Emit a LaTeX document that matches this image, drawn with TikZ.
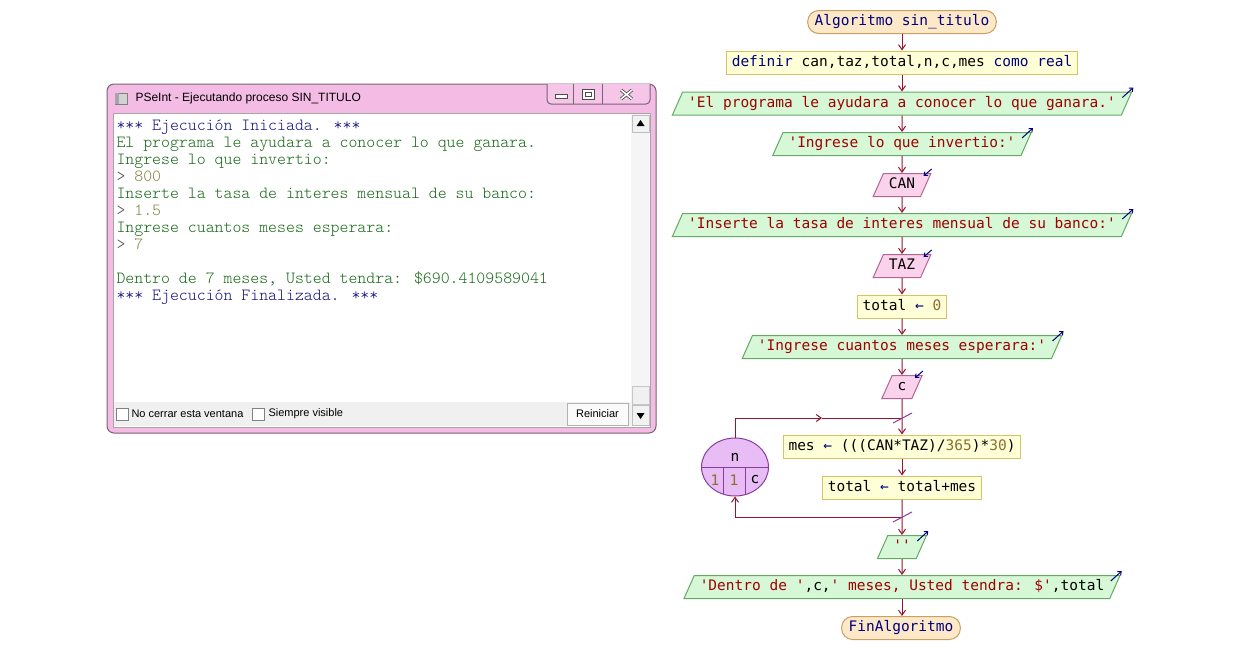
\documentclass[tikz,border=0pt]{standalone}
\usepackage{fontspec}
\setmainfont{Liberation Sans}
\newfontfamily\flowfont[Ligatures=ResetAll]{DejaVu Sans Mono}
\newfontfamily\confont[Ligatures=ResetAll]{Latin Modern Mono Light}
\usetikzlibrary{shapes.geometric,arrows.meta}

\definecolor{flowred}{RGB}{150,20,45}
\definecolor{kwblue}{RGB}{0,0,128}
\definecolor{strred}{RGB}{160,0,0}
\definecolor{numolive}{RGB}{140,110,50}
\definecolor{startfill}{RGB}{253,233,200}
\definecolor{startdraw}{RGB}{200,160,100}
\definecolor{procfill}{RGB}{255,255,215}
\definecolor{procdraw}{RGB}{215,195,100}
\definecolor{outfill}{RGB}{215,248,215}
\definecolor{outdraw}{RGB}{100,170,100}
\definecolor{infill}{RGB}{250,210,235}
\definecolor{indraw}{RGB}{180,100,150}
\definecolor{loopfill}{RGB}{232,188,244}
\definecolor{loopdraw}{RGB}{140,60,160}
\definecolor{winpink}{RGB}{244,188,228}
\definecolor{winframe}{RGB}{120,100,115}
\definecolor{conblue}{RGB}{20,20,130}
\definecolor{congreen}{RGB}{25,105,25}
\definecolor{coninput}{RGB}{130,130,70}
\definecolor{barbg}{RGB}{240,240,240}

\newcommand{\kwd}[1]{\textcolor{kwblue}{#1}}
\newcommand{\strg}[1]{\textcolor{strred}{#1}}
\newcommand{\numb}[1]{\textcolor{numolive}{#1}}

\tikzstyle{flowtext}=[font=\flowfont\fontsize{14.5}{16}\selectfont,text height=11pt,text depth=3.5pt,inner ysep=4.25pt,inner xsep=5.5pt]
\tikzstyle{termbox}=[flowtext,rectangle,rounded corners=11pt,draw=startdraw,fill=startfill,inner xsep=7pt]
\tikzstyle{procbox}=[flowtext,rectangle,draw=procdraw,fill=procfill]
\tikzstyle{outbox}=[flowtext,trapezium,trapezium left angle=66,trapezium right angle=114,draw=outdraw,fill=outfill]
\tikzstyle{inbox}=[outbox,draw=indraw,fill=infill]
\tikzstyle{loopbox}=[ellipse,draw=loopdraw,fill=loopfill,minimum width=67pt,minimum height=58pt]
\tikzstyle{looptext}=[font=\flowfont\fontsize{14.5}{16}\selectfont,inner sep=0pt]
\tikzstyle{flow}=[draw=flowred,->]
\tikzstyle{joinmark}=[draw=loopdraw]
\tikzstyle{iconarrow}=[draw=kwblue,-{Straight Barb[length=3pt,width=5pt]}]
\tikzstyle{conline}=[font=\confont\fontsize{17}{19}\selectfont,anchor=base west,inner sep=0pt]
\tikzstyle{chrome}=[font=\fontsize{11}{13}\selectfont,anchor=west,inner sep=0pt]

\begin{document}
\begin{tikzpicture}[x=1pt,y=-1pt,line width=1pt,>={Straight Barb[length=5pt,width=7pt]}]
	\fill[white] (0,0) rectangle (1259,648);
	\useasboundingbox (0,0) rectangle (1259,648);

	% console window
	\draw[fill=winpink,draw=winframe,rounded corners=7pt] (107,84) rectangle (656,433);
	\draw[fill=white,draw=gray!70] (113,113) rectangle (650,427);
	\draw[fill=gray!35,draw=gray] (115,93) rectangle (127,104);
	\fill[gray!70] (115,93) rectangle (119,104);
	\node[chrome,font=\fontsize{12}{14}\selectfont] (title) at (135,98) {PSeInt - Ejecutando proceso SIN\_TITULO};
	\draw[fill=winpink!85!white,draw=winframe,rounded corners=4pt] (547,84) -- (547,104) -- (650,104) -- (650,84);
	\draw[winframe] (573,84) -- (573,104);
	\draw[winframe] (602,84) -- (602,104);
	\draw[fill=white,draw=gray!60!black] (555,94) rectangle (567,98);
	\draw[fill=white,draw=gray!60!black] (582,89) rectangle (594,99);
	\draw[draw=gray!60!black] (585,92) rectangle (591,96);
	\draw[line width=3.2pt,gray!60!black] (621,90) -- (632,99) (632,90) -- (621,99);
	\draw[line width=1.6pt,white] (621,90) -- (632,99) (632,90) -- (621,99);

	% scrollbar
	\fill[gray!8] (631,114) rectangle (649,426);
	\draw[fill=gray!10,draw=gray!50] (632,115) rectangle (649,132);
	\fill (640.5,120) -- (636.5,126) -- (644.5,126) -- cycle;
	\draw[fill=gray!12,draw=gray!45] (632,386) rectangle (649,404);
	\draw[fill=gray!10,draw=gray!50] (632,405) rectangle (649,425);
	\fill (636.5,413) -- (644.5,413) -- (640.5,419) -- cycle;

	% bottom bar
	\fill[barbg] (114,402) rectangle (631,426);
	\draw[fill=white,draw=gray] (116,408) rectangle (128,420);
	\draw[fill=white,draw=gray] (252,408) rectangle (264,420);
	\node[chrome] (keepopen) at (131,414) {No cerrar esta ventana};
	\node[chrome] (ontop) at (268,414) {Siempre visible};
	\node[draw=gray!60,fill=gray!4,minimum width=61pt,minimum height=22pt,font=\fontsize{11}{13}\selectfont] (restart) at (597.5,414) {Reiniciar};

	% console text
	\node[conline] (l1) at (116,130) {\textcolor{conblue}{*** Ejecución Iniciada. ***}};
	\node[conline] (l2) at (116,147) {\textcolor{congreen}{El programa le ayudara a conocer lo que ganara.}};
	\node[conline] (l3) at (116,164) {\textcolor{congreen}{Ingrese lo que invertio:}};
	\node[conline] (l4) at (116,181) {\textcolor{gray!60!black}{>} \textcolor{coninput}{800}};
	\node[conline] (l5) at (116,198) {\textcolor{congreen}{Inserte la tasa de interes mensual de su banco:}};
	\node[conline] (l6) at (116,215) {\textcolor{gray!60!black}{>} \textcolor{coninput}{1.5}};
	\node[conline] (l7) at (116,232) {\textcolor{congreen}{Ingrese cuantos meses esperara:}};
	\node[conline] (l8) at (116,249) {\textcolor{gray!60!black}{>} \textcolor{coninput}{7}};
	\node[conline] (l9) at (116,283) {\textcolor{congreen}{Dentro de 7 meses, Usted tendra: \$690.4109589041}};
	\node[conline] (l10) at (116,300) {\textcolor{conblue}{*** Ejecución Finalizada. ***}};

	% flowchart
	\node[termbox] (start) at (902,22) {\kwd{Algoritmo sin\_titulo}};
	\node[procbox] (defn) at (902,62.5) {\kwd{definir} can,taz,total,n,c,mes \kwd{como} \kwd{real}};
	\node[outbox] (msg1) at (902,103.5) {\strg{'El programa le ayudara a conocer lo que ganara.'}};
	\node[outbox] (msg2) at (902,144) {\strg{'Ingrese lo que invertio:'}};
	\node[inbox] (readcan) at (902,185) {CAN};
	\node[outbox] (msg3) at (902,225) {\strg{'Inserte la tasa de interes mensual de su banco:'}};
	\node[inbox] (readtaz) at (902,266) {TAZ};
	\node[procbox] (init) at (902,306.5) {total \kwd{←} \numb{0}};
	\node[outbox] (msg4) at (902,347) {\strg{'Ingrese cuantos meses esperara:'}};
	\node[inbox] (readc) at (902,387) {c};
	\node[procbox] (calcmes) at (902,446.5) {mes \kwd{←} (((CAN*TAZ)/\numb{365})*\numb{30})};
	\node[procbox] (acum) at (902,487.5) {total \kwd{←} total+mes};
	\node[outbox] (blank) at (902,547) {\strg{''}};
	\node[outbox] (result) at (902,587) {\strg{'Dentro de '},c,\strg{' meses, Usted tendra: \$'},total};
	\node[termbox] (finish) at (901,628) {\kwd{FinAlgoritmo}};

	\foreach \a/\b in {start/defn,defn/msg1,msg1/msg2,msg2/readcan,readcan/msg3,msg3/readtaz,readtaz/init,init/msg4,msg4/readc,readc/calcmes,calcmes/acum,acum/blank,blank/result}
	{\draw[flow] (\a) -- (\b);}
	\draw[flow] (result) -- (finish.north -| result);

	\foreach \o in {msg1,msg2,msg3,msg4,blank,result}
	{\draw[iconarrow] ([shift={(-10,6)}]\o.top right corner) -- ([shift={(1,-4)}]\o.top right corner);}
	\foreach \i in {readcan,readtaz,readc}
	{\draw[iconarrow] ([shift={(0,-4)}]\i.top right corner) -- ([shift={(-8,3)}]\i.top right corner);}

	% loop
	\coordinate (jtop) at (902,418);
	\coordinate (jbot) at (902,517);
	\coordinate (amid) at (822,418);
	\node[loopbox] (loopc) at (735,467) {};
	\draw[loopdraw] (loopc.west) -- (loopc.east);
	\begin{scope}
	\clip (735,467) ellipse (33.5pt and 29pt);
	\draw[loopdraw] (723,467) -- (723,500);
	\draw[loopdraw] (745,467) -- (745,500);
	\end{scope}
	\node[looptext] (loopvar) at (735,457) {n};
	\node[looptext] (loopfrom) at (715,480) {\numb{1}};
	\node[looptext] (loopstep) at (734,480) {\numb{1}};
	\node[looptext] (loopto) at (755,480) {c};
	\draw[flow] (loopc.north) |- (amid);
	\draw[flowred] (amid) -- (jtop);
	\draw[flow] (jbot) -| (loopc.south);
	\draw[joinmark] ([shift={(-9,5)}]jtop) -- ([shift={(10,-5)}]jtop);
	\draw[joinmark] ([shift={(-9,5)}]jbot) -- ([shift={(10,-5)}]jbot);
\end{tikzpicture}
\end{document}
